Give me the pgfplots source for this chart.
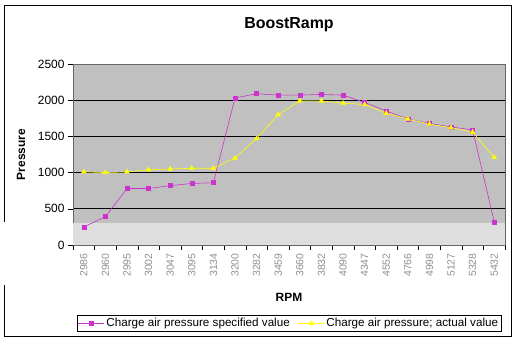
\documentclass[border=0pt]{standalone}
\usepackage{pgfplots}
\pgfplotsset{compat=1.18}
\usepackage{fontspec}
\setmainfont{Liberation Sans}
\definecolor{plotbg}{HTML}{C0C0C0}
\definecolor{band}{HTML}{DEDEDE}
\definecolor{spec}{HTML}{CC33CC}
\definecolor{act}{HTML}{FFFF00}
\definecolor{ticktxt}{HTML}{909090}
\begin{document}
\begin{tikzpicture}
\path (-73bp,-93bp) rectangle (440bp,245bp);
\begin{axis}[
  at={(0,0)}, anchor=south west,
  scale only axis, width=432bp, height=181bp,
  xmin=-0.5, xmax=19.5, ymin=0, ymax=2500,
  axis background/.style={fill=plotbg},
  xtick={0,...,19},
  xticklabels={2986,2960,2995,3002,3047,3095,3134,3200,3282,3459,3660,3832,4090,4347,4552,4766,4998,5127,5328,5432},
  major x tick style={draw=none},
  minor xtick={-0.5,0.5,...,19.5},
  ytick={0,500,...,2500},
  ymajorgrids, grid style={black, line width=0.7pt},
  tick align=outside, tick pos=left,
  major tick length=5bp, minor tick length=5bp,
  tick style={black, line width=0.6pt},
  axis line style={gray!80!black, line width=0.6pt},
  x tick label style={rotate=90, anchor=east, font=\fontsize{10.5}{12}\selectfont, text=ticktxt},
  y tick label style={font=\fontsize{12}{14}\selectfont},
  /pgf/number format/assume math mode=true,
  /pgf/number format/1000 sep={},
  legend style={at={(0.5,-0.4337)}, anchor=center, draw=black, line width=0.6pt,
    font=\fontsize{11.7}{13}\selectfont, inner sep=1pt,
    /tikz/every even column/.append style={column sep=6bp}},
  legend columns=2,
  legend image code/.code={\draw[mark repeat=2,mark phase=2,#1] plot coordinates {(0bp,0bp) (13bp,0bp) (26bp,0bp)};},
]
\addplot[draw=none, fill=band, forget plot] coordinates {(-0.5,300) (19.5,300)} \closedcycle;
\addplot[spec, line width=0.6pt, mark=square*, mark size=2bp, mark options={solid, fill=spec}] coordinates {
(0,250) (1,390) (2,780) (3,780) (4,820) (5,850) (6,860) (7,2030) (8,2090) (9,2070)
(10,2070) (11,2080) (12,2070) (13,1970) (14,1850) (15,1740) (16,1680) (17,1630) (18,1590) (19,320)};
\addlegendentry{Charge air pressure specified value}
\addplot[act, line width=0.6pt, mark=triangle*, mark size=2.6bp, mark options={solid, fill=act}] coordinates {
(0,1010) (1,1000) (2,1010) (3,1040) (4,1050) (5,1060) (6,1060) (7,1200) (8,1470) (9,1800)
(10,1990) (11,1990) (12,1960) (13,1940) (14,1820) (15,1740) (16,1670) (17,1620) (18,1560) (19,1210)};
\addlegendentry{Charge air pressure; actual value}
\end{axis}
\draw[black, line width=0.8pt] (-69bp,-91bp) rectangle (438bp,240bp);
\fill[white] (-71bp,-40bp) rectangle (-67bp,23bp);
\node[font=\bfseries\fontsize{16}{19}\selectfont] at (216bp,220bp) {BoostRamp};
\node[font=\bfseries\fontsize{12}{14}\selectfont, rotate=90] at (-52bp,90.5bp) {Pressure};
\node[font=\bfseries\fontsize{12}{14}\selectfont] at (216bp,-52bp) {RPM};
\end{tikzpicture}
\end{document}
